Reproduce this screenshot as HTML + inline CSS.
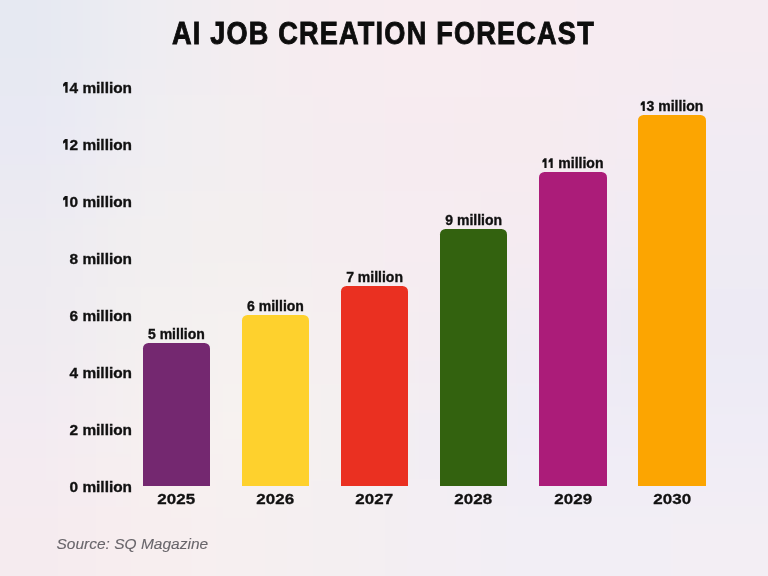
<!DOCTYPE html>
<html><head><meta charset="utf-8"><style>
html,body{margin:0;padding:0;}
body{width:768px;height:576px;overflow:hidden;position:relative;font-family:"Liberation Sans",sans-serif;
background:#f3edf1;
}
.bg{position:absolute;left:0;top:0;width:768px;height:576px;filter:blur(40px);}
.title{position:absolute;left:0;width:768px;top:17px;text-align:center;font-weight:bold;font-size:32px;line-height:32px;color:#0d0d0d;-webkit-text-stroke:0.9px #0d0d0d;letter-spacing:1.4px;}
.title span{display:inline-block;transform:scaleX(0.848);transform-origin:center;position:relative;left:-0.8px;}
.bar{position:absolute;border-radius:5.5px 5.5px 0 0;}
.bl{position:absolute;width:100px;text-align:center;font-weight:bold;font-size:14px;line-height:16px;color:#111;-webkit-text-stroke:0.35px #111;}
.xl{position:absolute;width:100px;top:491.2px;text-align:center;font-weight:bold;font-size:15.5px;line-height:16px;color:#111;-webkit-text-stroke:0.3px #111;}
.xl span{display:inline-block;transform:scaleX(1.095);}
.yl{position:absolute;right:636px;font-weight:bold;font-size:15.4px;line-height:17px;color:#111;white-space:nowrap;-webkit-text-stroke:0.35px #111;}
.one{display:inline-block;width:0.44em;height:0.716em;background:currentColor;clip-path:polygon(0.16em 0,0.315em 0,0.315em 0.716em,0.16em 0.716em,0.16em 0.25em,0.02em 0.32em,0.02em 0.15em);}
.one b{position:absolute;opacity:0;font-size:1px;}
.src{position:absolute;left:56.5px;top:534.5px;font-style:italic;font-size:15.5px;line-height:17px;color:#68656a;-webkit-text-stroke:0.1px #68656a;}
</style></head><body>
<div class="bg"><div style="position:absolute;left:-96px;top:-96px;width:96px;height:96px;background:#e6e9f2"></div><div style="position:absolute;left:0px;top:-96px;width:96px;height:96px;background:#e6e9f2"></div><div style="position:absolute;left:96px;top:-96px;width:96px;height:96px;background:#eeedf2"></div><div style="position:absolute;left:192px;top:-96px;width:96px;height:96px;background:#f3edf0"></div><div style="position:absolute;left:288px;top:-96px;width:96px;height:96px;background:#f7ecf0"></div><div style="position:absolute;left:384px;top:-96px;width:96px;height:96px;background:#f8ecf0"></div><div style="position:absolute;left:480px;top:-96px;width:96px;height:96px;background:#f7ebf0"></div><div style="position:absolute;left:576px;top:-96px;width:96px;height:96px;background:#f6ebf1"></div><div style="position:absolute;left:672px;top:-96px;width:96px;height:96px;background:#f5ebf1"></div><div style="position:absolute;left:768px;top:-96px;width:96px;height:96px;background:#f5ebf1"></div><div style="position:absolute;left:-96px;top:0px;width:96px;height:96px;background:#e6e9f2"></div><div style="position:absolute;left:0px;top:0px;width:96px;height:96px;background:#e6e9f2"></div><div style="position:absolute;left:96px;top:0px;width:96px;height:96px;background:#eeedf2"></div><div style="position:absolute;left:192px;top:0px;width:96px;height:96px;background:#f3edf0"></div><div style="position:absolute;left:288px;top:0px;width:96px;height:96px;background:#f7ecf0"></div><div style="position:absolute;left:384px;top:0px;width:96px;height:96px;background:#f8ecf0"></div><div style="position:absolute;left:480px;top:0px;width:96px;height:96px;background:#f7ebf0"></div><div style="position:absolute;left:576px;top:0px;width:96px;height:96px;background:#f6ebf1"></div><div style="position:absolute;left:672px;top:0px;width:96px;height:96px;background:#f5ebf1"></div><div style="position:absolute;left:768px;top:0px;width:96px;height:96px;background:#f5ebf1"></div><div style="position:absolute;left:-96px;top:96px;width:96px;height:96px;background:#e9e9f3"></div><div style="position:absolute;left:0px;top:96px;width:96px;height:96px;background:#e9e9f3"></div><div style="position:absolute;left:96px;top:96px;width:96px;height:96px;background:#f0eef2"></div><div style="position:absolute;left:192px;top:96px;width:96px;height:96px;background:#f3eef0"></div><div style="position:absolute;left:288px;top:96px;width:96px;height:96px;background:#f5ecf0"></div><div style="position:absolute;left:384px;top:96px;width:96px;height:96px;background:#f6ebf0"></div><div style="position:absolute;left:480px;top:96px;width:96px;height:96px;background:#f6ebee"></div><div style="position:absolute;left:576px;top:96px;width:96px;height:96px;background:#f4ebf2"></div><div style="position:absolute;left:672px;top:96px;width:96px;height:96px;background:#f1ebf3"></div><div style="position:absolute;left:768px;top:96px;width:96px;height:96px;background:#f1ebf3"></div><div style="position:absolute;left:-96px;top:192px;width:96px;height:96px;background:#edebf1"></div><div style="position:absolute;left:0px;top:192px;width:96px;height:96px;background:#edebf1"></div><div style="position:absolute;left:96px;top:192px;width:96px;height:96px;background:#f2eff0"></div><div style="position:absolute;left:192px;top:192px;width:96px;height:96px;background:#f3efef"></div><div style="position:absolute;left:288px;top:192px;width:96px;height:96px;background:#f5edf0"></div><div style="position:absolute;left:384px;top:192px;width:96px;height:96px;background:#f6ecf1"></div><div style="position:absolute;left:480px;top:192px;width:96px;height:96px;background:#f5ebf1"></div><div style="position:absolute;left:576px;top:192px;width:96px;height:96px;background:#f1ebf3"></div><div style="position:absolute;left:672px;top:192px;width:96px;height:96px;background:#efebf3"></div><div style="position:absolute;left:768px;top:192px;width:96px;height:96px;background:#efebf3"></div><div style="position:absolute;left:-96px;top:288px;width:96px;height:96px;background:#efebf1"></div><div style="position:absolute;left:0px;top:288px;width:96px;height:96px;background:#efebf1"></div><div style="position:absolute;left:96px;top:288px;width:96px;height:96px;background:#f3f0f0"></div><div style="position:absolute;left:192px;top:288px;width:96px;height:96px;background:#f5f1f0"></div><div style="position:absolute;left:288px;top:288px;width:96px;height:96px;background:#f5eff0"></div><div style="position:absolute;left:384px;top:288px;width:96px;height:96px;background:#f4ecf1"></div><div style="position:absolute;left:480px;top:288px;width:96px;height:96px;background:#f0ebf3"></div><div style="position:absolute;left:576px;top:288px;width:96px;height:96px;background:#eceaf3"></div><div style="position:absolute;left:672px;top:288px;width:96px;height:96px;background:#eceaf4"></div><div style="position:absolute;left:768px;top:288px;width:96px;height:96px;background:#eceaf4"></div><div style="position:absolute;left:-96px;top:384px;width:96px;height:96px;background:#f3ebf2"></div><div style="position:absolute;left:0px;top:384px;width:96px;height:96px;background:#f3ebf2"></div><div style="position:absolute;left:96px;top:384px;width:96px;height:96px;background:#f6f0f0"></div><div style="position:absolute;left:192px;top:384px;width:96px;height:96px;background:#f7f2f0"></div><div style="position:absolute;left:288px;top:384px;width:96px;height:96px;background:#f4f0f0"></div><div style="position:absolute;left:384px;top:384px;width:96px;height:96px;background:#f2edf3"></div><div style="position:absolute;left:480px;top:384px;width:96px;height:96px;background:#efecf6"></div><div style="position:absolute;left:576px;top:384px;width:96px;height:96px;background:#efecf6"></div><div style="position:absolute;left:672px;top:384px;width:96px;height:96px;background:#efecf6"></div><div style="position:absolute;left:768px;top:384px;width:96px;height:96px;background:#efecf6"></div><div style="position:absolute;left:-96px;top:480px;width:96px;height:96px;background:#f5ebef"></div><div style="position:absolute;left:0px;top:480px;width:96px;height:96px;background:#f5ebef"></div><div style="position:absolute;left:96px;top:480px;width:96px;height:96px;background:#f8eeef"></div><div style="position:absolute;left:192px;top:480px;width:96px;height:96px;background:#f6eff0"></div><div style="position:absolute;left:288px;top:480px;width:96px;height:96px;background:#f4eff1"></div><div style="position:absolute;left:384px;top:480px;width:96px;height:96px;background:#f3eef3"></div><div style="position:absolute;left:480px;top:480px;width:96px;height:96px;background:#f2eef5"></div><div style="position:absolute;left:576px;top:480px;width:96px;height:96px;background:#f2eef5"></div><div style="position:absolute;left:672px;top:480px;width:96px;height:96px;background:#f3eef4"></div><div style="position:absolute;left:768px;top:480px;width:96px;height:96px;background:#f3eef4"></div><div style="position:absolute;left:-96px;top:576px;width:96px;height:96px;background:#f5ebef"></div><div style="position:absolute;left:0px;top:576px;width:96px;height:96px;background:#f5ebef"></div><div style="position:absolute;left:96px;top:576px;width:96px;height:96px;background:#f8eeef"></div><div style="position:absolute;left:192px;top:576px;width:96px;height:96px;background:#f6eff0"></div><div style="position:absolute;left:288px;top:576px;width:96px;height:96px;background:#f4eff1"></div><div style="position:absolute;left:384px;top:576px;width:96px;height:96px;background:#f3eef3"></div><div style="position:absolute;left:480px;top:576px;width:96px;height:96px;background:#f2eef5"></div><div style="position:absolute;left:576px;top:576px;width:96px;height:96px;background:#f2eef5"></div><div style="position:absolute;left:672px;top:576px;width:96px;height:96px;background:#f3eef4"></div><div style="position:absolute;left:768px;top:576px;width:96px;height:96px;background:#f3eef4"></div></div>
<div class="title"><span>AI JOB CREATION FORECAST</span></div>
<div class="yl" style="top:477.60px">0 million</div><div class="yl" style="top:420.62px">2 million</div><div class="yl" style="top:363.64px">4 million</div><div class="yl" style="top:306.66px">6 million</div><div class="yl" style="top:249.68px">8 million</div><div class="yl" style="top:192.70px"><i class="one"><b>1</b></i>0 million</div><div class="yl" style="top:135.72px"><i class="one"><b>1</b></i>2 million</div><div class="yl" style="top:78.74px"><i class="one"><b>1</b></i>4 million</div>
<div class="bar" style="left:142.60px;top:343.15px;width:67.6px;height:142.45px;background:#742870"></div><div class="bl" style="left:126.40px;top:326.25px">5 million</div><div class="xl" style="left:126.40px"><span>2025</span></div><div class="bar" style="left:241.70px;top:314.66px;width:67.6px;height:170.94px;background:#fed12d"></div><div class="bl" style="left:225.50px;top:297.76px">6 million</div><div class="xl" style="left:225.50px"><span>2026</span></div><div class="bar" style="left:340.80px;top:286.17px;width:67.6px;height:199.43px;background:#ea3021"></div><div class="bl" style="left:324.60px;top:269.27px">7 million</div><div class="xl" style="left:324.60px"><span>2027</span></div><div class="bar" style="left:439.90px;top:229.19px;width:67.6px;height:256.41px;background:#33620f"></div><div class="bl" style="left:423.70px;top:212.29px">9 million</div><div class="xl" style="left:423.70px"><span>2028</span></div><div class="bar" style="left:539.00px;top:172.21px;width:67.6px;height:313.39px;background:#ab1c79"></div><div class="bl" style="left:522.80px;top:155.31px"><i class="one"><b>1</b></i><i class="one"><b>1</b></i> million</div><div class="xl" style="left:522.80px"><span>2029</span></div><div class="bar" style="left:638.10px;top:115.23px;width:67.6px;height:370.37px;background:#fca501"></div><div class="bl" style="left:621.90px;top:98.33px"><i class="one"><b>1</b></i>3 million</div><div class="xl" style="left:621.90px"><span>2030</span></div>
<div class="src">Source: SQ Magazine</div>
</body></html>
